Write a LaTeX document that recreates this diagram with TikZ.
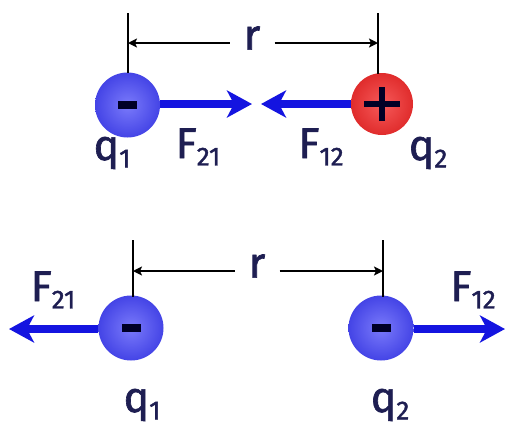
\documentclass[tikz,border=0pt]{standalone}
\usepackage{fontspec}
\setmainfont{Fira Sans}
\newfontfamily\lblfont{Fira Sans}[FakeBold=1.5]
\usetikzlibrary{arrows.meta}
\definecolor{txt}{HTML}{1E1E52}
\definecolor{qblue}{HTML}{4444E6}
\definecolor{qbluein}{HTML}{7A7AFA}
\definecolor{qred}{HTML}{E02C2C}
\definecolor{qredin}{HTML}{F65A5A}
\definecolor{fblue}{HTML}{1414E0}
\newcommand\lsub[1]{\raisebox{-0.17em}{\fontsize{26}{26}\selectfont #1}}
\tikzset{
 lbl/.style={text=txt, font=\lblfont\fontsize{43}{46}\selectfont, inner sep=0pt},
 bluecharge/.style={circle, minimum size=65pt, inner sep=0pt, inner color=qbluein, outer color=qblue},
 redcharge/.style={circle, minimum size=62pt, inner sep=0pt, inner color=qredin, outer color=qred},
 signbar/.style={fill=black!85!blue},
 force/.style={fblue, line width=7.5pt, -{Stealth[length=25pt,width=27pt,inset=7pt]}},
 guide/.style={black, line width=1.6pt},
 dim/.style={black, line width=1.6pt, -{Stealth[length=9pt,width=9pt,inset=2pt]}},
}
\begin{document}
\begin{tikzpicture}[x=1pt,y=-1pt]
\useasboundingbox (0,0) rectangle (515,429);
% ---------- top: attraction ----------
\coordinate (ta) at (128,13);
\coordinate (tb) at (378,13);
\node[bluecharge] (t1) at (127.5,105) {};
\node[redcharge] (t2) at (382,104) {};
\fill[signbar] ([shift={(-9.5,-4)}]t1.center) rectangle ([shift={(9.5,4)}]t1.center);
\fill[signbar] ([shift={(-18,-3)}]t2.center) rectangle ([shift={(18,3)}]t2.center);
\fill[signbar] ([shift={(-3,-17)}]t2.center) rectangle ([shift={(3,17)}]t2.center);
\coordinate (t1top) at (128,73);
\coordinate (t2top) at (378,74);
\draw[guide] (ta) -- (t1top);
\draw[guide] (tb) -- (t2top);
\node[lbl] (tr) at (252,38) {r};
\draw[dim] (tr.west) ++(-14,5) -- (128,43);
\draw[dim] (tr.east) ++(14,5) -- (378,43);
\coordinate (tf1) at (252,104);
\coordinate (tf2) at (261,104);
\draw[force] (t1.east |- tf1) -- (tf1);
\draw[force] (t2.west) -- (tf2);
\node[lbl] (tq1) at (112,153) {q\lsub{1}};
\node[lbl] (tF21) at (198,147) {F\lsub{21}};
\node[lbl] (tF12) at (321,147) {F\lsub{12}};
\node[lbl] (tq2) at (428,153) {q\lsub{2}};
% ---------- bottom: repulsion ----------
\coordinate (ba) at (133,240);
\coordinate (bb) at (383,240);
\node[bluecharge] (b1) at (131,328) {};
\node[bluecharge] (b2) at (381,328) {};
\fill[signbar] ([shift={(-9.5,-4)}]b1.center) rectangle ([shift={(9.5,4)}]b1.center);
\fill[signbar] ([shift={(-9.5,-4)}]b2.center) rectangle ([shift={(9.5,4)}]b2.center);
\coordinate (b1top) at (133,297);
\coordinate (b2top) at (383,297);
\draw[guide] (ba) -- (b1top);
\draw[guide] (bb) -- (b2top);
\node[lbl] (br) at (257,266) {r};
\draw[dim] (br.west) ++(-14,5) -- (133,271);
\draw[dim] (br.east) ++(14,5) -- (383,271);
\coordinate (bf1) at (9,329);
\coordinate (bf2) at (505,329);
\draw[force] (b1.west |- bf1) -- (bf1);
\draw[force] (b2.east |- bf2) -- (bf2);
\node[lbl] (bF21) at (53,290) {F\lsub{21}};
\node[lbl] (bF12) at (473,290) {F\lsub{12}};
\node[lbl] (bq1) at (142,405) {q\lsub{1}};
\node[lbl] (bq2) at (390,405) {q\lsub{2}};
\end{tikzpicture}
\end{document}
